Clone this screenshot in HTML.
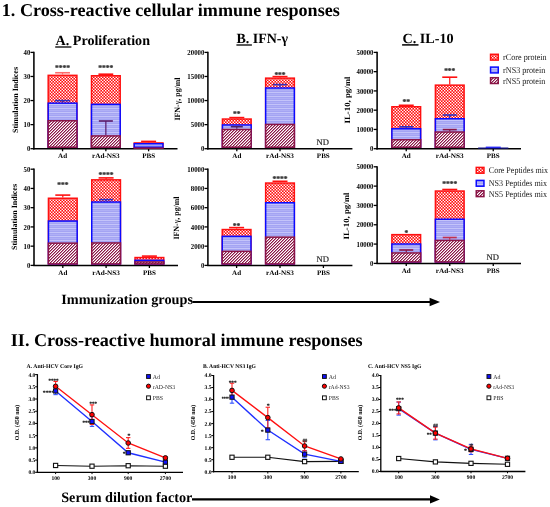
<!DOCTYPE html>
<html><head><meta charset="utf-8"><title>Cross-reactive immune responses</title>
<style>html,body{margin:0;padding:0;background:#fff;width:550px;height:507px;overflow:hidden}svg{display:block}</style>
</head><body>
<svg width="550" height="507" viewBox="0 0 550 507" font-family="'Liberation Serif', 'Times New Roman', serif" text-rendering="geometricPrecision">
<defs>
<pattern id="rp" patternUnits="userSpaceOnUse" width="3" height="3"><rect x="0" y="0" width="1" height="1" fill="#fff4f4"/><rect x="0" y="1" width="1" height="1" fill="#ff6e6e"/><rect x="0" y="2" width="1" height="1" fill="#ff0c0c"/><rect x="1" y="0" width="1" height="1" fill="#ff6e6e"/><rect x="1" y="1" width="1" height="1" fill="#ff6e6e"/><rect x="1" y="2" width="1" height="1" fill="#ff6e6e"/><rect x="2" y="0" width="1" height="1" fill="#ff0c0c"/><rect x="2" y="1" width="1" height="1" fill="#ff6e6e"/><rect x="2" y="2" width="1" height="1" fill="#fff4f4"/></pattern>
<pattern id="bp" patternUnits="userSpaceOnUse" width="4" height="4">
<rect width="4" height="4" fill="#a4a4f3"/><rect y="0" width="4" height="1" fill="#c4c4fa"/><rect y="2" width="4" height="1" fill="#b0b0f6"/>
</pattern>
<pattern id="pp" patternUnits="userSpaceOnUse" width="3" height="3">
<rect width="3" height="3" fill="#fff"/><rect x="0" y="0" width="1" height="1" fill="#8a1446"/><rect x="0" y="1" width="1" height="1" fill="#c48aa2"/><rect x="1" y="0" width="1" height="1" fill="#c48aa2"/><rect x="1" y="2" width="1" height="1" fill="#8a1446"/><rect x="2" y="1" width="1" height="1" fill="#8a1446"/><rect x="2" y="2" width="1" height="1" fill="#c48aa2"/>
</pattern>
</defs>
<text x="1.80" y="15.80" font-size="18" font-weight="bold" fill="#000" textLength="338.00" lengthAdjust="spacingAndGlyphs">1. Cross-reactive cellular immune responses</text>
<text x="10.80" y="345.60" font-size="18" font-weight="bold" fill="#000" textLength="351.80" lengthAdjust="spacingAndGlyphs">II. Cross-reactive humoral immune responses</text>
<text x="61.20" y="304.40" font-size="14.2" font-weight="bold" fill="#000" textLength="131.80" lengthAdjust="spacingAndGlyphs">Immunization groups</text>
<text x="61.20" y="502.00" font-size="14.3" font-weight="bold" fill="#000" textLength="131.20" lengthAdjust="spacingAndGlyphs">Serum dilution factor</text>
<line x1="192.50" y1="301.90" x2="431.00" y2="301.90" stroke="#000" stroke-width="2.0"/>
<polygon points="429.6,297.8 440,302 429.6,306.2" fill="#000"/>
<line x1="192.00" y1="499.40" x2="431.00" y2="499.40" stroke="#000" stroke-width="2.2"/>
<polygon points="430,495.3 439.8,499.4 430,503.6" fill="#000"/>
<text x="55.6" y="44.8" font-size="14.1" font-weight="bold" textLength="94.4" lengthAdjust="spacingAndGlyphs">A. Proliferation</text>
<line x1="55.20" y1="47.00" x2="71.40" y2="47.00" stroke="#000" stroke-width="1.3"/>
<text x="236.4" y="43.3" font-size="14.1" font-weight="bold" textLength="51.6" lengthAdjust="spacingAndGlyphs">B. IFN-&#947;</text>
<line x1="236.40" y1="45.00" x2="251.90" y2="45.00" stroke="#000" stroke-width="1.3"/>
<text x="402.4" y="42.8" font-size="14.1" font-weight="bold" textLength="51.2" lengthAdjust="spacingAndGlyphs">C. IL-10</text>
<line x1="402.10" y1="44.90" x2="418.50" y2="44.90" stroke="#000" stroke-width="1.5"/>
<line x1="30.50" y1="148.70" x2="33.90" y2="148.70" stroke="#000" stroke-width="1.3"/>
<text x="30.30" y="151.30" font-size="7.7" text-anchor="end" font-weight="bold" fill="#000" textLength="3.39" lengthAdjust="spacingAndGlyphs">0</text>
<line x1="30.50" y1="124.62" x2="33.90" y2="124.62" stroke="#000" stroke-width="1.3"/>
<text x="30.30" y="127.22" font-size="7.7" text-anchor="end" font-weight="bold" fill="#000" textLength="6.78" lengthAdjust="spacingAndGlyphs">10</text>
<line x1="30.50" y1="100.55" x2="33.90" y2="100.55" stroke="#000" stroke-width="1.3"/>
<text x="30.30" y="103.15" font-size="7.7" text-anchor="end" font-weight="bold" fill="#000" textLength="6.78" lengthAdjust="spacingAndGlyphs">20</text>
<line x1="30.50" y1="76.47" x2="33.90" y2="76.47" stroke="#000" stroke-width="1.3"/>
<text x="30.30" y="79.07" font-size="7.7" text-anchor="end" font-weight="bold" fill="#000" textLength="6.78" lengthAdjust="spacingAndGlyphs">30</text>
<line x1="30.50" y1="52.40" x2="33.90" y2="52.40" stroke="#000" stroke-width="1.3"/>
<text x="30.30" y="55.00" font-size="7.7" text-anchor="end" font-weight="bold" fill="#000" textLength="6.78" lengthAdjust="spacingAndGlyphs">40</text>
<line x1="33.90" y1="51.75" x2="33.90" y2="149.40" stroke="#000" stroke-width="1.55"/>
<line x1="33.20" y1="148.70" x2="177.50" y2="148.70" stroke="#000" stroke-width="1.55"/>
<text transform="translate(17.50,100.00) rotate(-90)" x="0" y="0" font-size="8" font-weight="bold" text-anchor="middle" textLength="66" lengthAdjust="spacingAndGlyphs">Stimulation Indices</text>
<line x1="62.55" y1="148.70" x2="62.55" y2="151.30" stroke="#000" stroke-width="1.3"/>
<text x="62.55" y="157.80" font-size="6.9" text-anchor="middle" font-weight="bold" fill="#000" textLength="9.00" lengthAdjust="spacingAndGlyphs">Ad</text>
<rect x="48.20" y="75.35" width="28.70" height="71.85" fill="url(#rp)" stroke="#ff1010" stroke-width="1.5"/>
<rect x="48.20" y="103.15" width="28.70" height="44.05" fill="url(#bp)" stroke="#0a0aff" stroke-width="1.5"/>
<rect x="48.20" y="120.75" width="28.70" height="26.45" fill="url(#pp)" stroke="#8a1446" stroke-width="1.5"/>
<line x1="62.55" y1="74.60" x2="62.55" y2="72.75" stroke="#ff6a6a" stroke-width="1.2"/>
<line x1="55.15" y1="72.75" x2="69.95" y2="72.75" stroke="#ff6a6a" stroke-width="1.6"/>
<line x1="62.55" y1="102.40" x2="62.55" y2="100.60" stroke="#3030c0" stroke-width="1.2"/>
<line x1="55.05" y1="100.60" x2="70.05" y2="100.60" stroke="#3030c0" stroke-width="1.6"/>
<text x="62.55" y="70.30" font-size="7.4" text-anchor="middle" font-weight="bold" fill="#3a3a3a" textLength="15.00" lengthAdjust="spacingAndGlyphs" stroke="#3a3a3a" stroke-width="0.3">****</text>
<line x1="105.85" y1="148.70" x2="105.85" y2="151.30" stroke="#000" stroke-width="1.3"/>
<text x="105.85" y="157.80" font-size="6.9" text-anchor="middle" font-weight="bold" fill="#000" textLength="27.80" lengthAdjust="spacingAndGlyphs">rAd-NS3</text>
<rect x="91.50" y="75.75" width="28.70" height="71.45" fill="url(#rp)" stroke="#ff1010" stroke-width="1.5"/>
<rect x="91.50" y="104.35" width="28.70" height="42.85" fill="url(#bp)" stroke="#0a0aff" stroke-width="1.5"/>
<rect x="91.50" y="135.95" width="28.70" height="11.25" fill="url(#pp)" stroke="#8a1446" stroke-width="1.5"/>
<line x1="105.85" y1="135.00" x2="105.85" y2="121.00" stroke="#5a1a6a" stroke-width="1.2"/>
<line x1="98.85" y1="121.00" x2="112.85" y2="121.00" stroke="#5a1a6a" stroke-width="1.6"/>
<line x1="105.85" y1="75.00" x2="105.85" y2="74.20" stroke="#ff1010" stroke-width="1.2"/>
<line x1="98.45" y1="74.20" x2="113.25" y2="74.20" stroke="#ff1010" stroke-width="1.6"/>
<text x="105.85" y="70.30" font-size="7.4" text-anchor="middle" font-weight="bold" fill="#3a3a3a" textLength="15.00" lengthAdjust="spacingAndGlyphs" stroke="#3a3a3a" stroke-width="0.3">****</text>
<line x1="148.60" y1="148.70" x2="148.60" y2="151.30" stroke="#000" stroke-width="1.3"/>
<text x="148.60" y="157.80" font-size="6.9" text-anchor="middle" font-weight="bold" fill="#000" textLength="12.90" lengthAdjust="spacingAndGlyphs">PBS</text>
<rect x="134.25" y="142.95" width="28.70" height="4.25" fill="url(#rp)" stroke="#ff1010" stroke-width="1.5"/>
<rect x="134.25" y="143.75" width="28.70" height="3.45" fill="url(#bp)" stroke="#0a0aff" stroke-width="1.5"/>
<rect x="134.25" y="148.15" width="28.70" height="0.10" fill="url(#pp)" stroke="#8a1446" stroke-width="1.5"/>
<line x1="148.60" y1="142.20" x2="148.60" y2="141.40" stroke="#ff1010" stroke-width="1.2"/>
<line x1="141.10" y1="141.40" x2="156.10" y2="141.40" stroke="#ff1010" stroke-width="1.6"/>
<line x1="204.50" y1="148.70" x2="207.90" y2="148.70" stroke="#000" stroke-width="1.3"/>
<text x="204.30" y="151.30" font-size="7.7" text-anchor="end" font-weight="bold" fill="#000" textLength="3.39" lengthAdjust="spacingAndGlyphs">0</text>
<line x1="204.50" y1="124.62" x2="207.90" y2="124.62" stroke="#000" stroke-width="1.3"/>
<text x="204.30" y="127.22" font-size="7.7" text-anchor="end" font-weight="bold" fill="#000" textLength="13.55" lengthAdjust="spacingAndGlyphs">5000</text>
<line x1="204.50" y1="100.55" x2="207.90" y2="100.55" stroke="#000" stroke-width="1.3"/>
<text x="204.30" y="103.15" font-size="7.7" text-anchor="end" font-weight="bold" fill="#000" textLength="16.94" lengthAdjust="spacingAndGlyphs">10000</text>
<line x1="204.50" y1="76.47" x2="207.90" y2="76.47" stroke="#000" stroke-width="1.3"/>
<text x="204.30" y="79.07" font-size="7.7" text-anchor="end" font-weight="bold" fill="#000" textLength="16.94" lengthAdjust="spacingAndGlyphs">15000</text>
<line x1="204.50" y1="52.40" x2="207.90" y2="52.40" stroke="#000" stroke-width="1.3"/>
<text x="204.30" y="55.00" font-size="7.7" text-anchor="end" font-weight="bold" fill="#000" textLength="16.94" lengthAdjust="spacingAndGlyphs">20000</text>
<line x1="207.90" y1="51.75" x2="207.90" y2="149.40" stroke="#000" stroke-width="1.55"/>
<line x1="207.20" y1="148.70" x2="352.40" y2="148.70" stroke="#000" stroke-width="1.55"/>
<text transform="translate(179.60,99.00) rotate(-90)" x="0" y="0" font-size="8" font-weight="bold" text-anchor="middle" textLength="43" lengthAdjust="spacingAndGlyphs">IFN-&#947;, pg/ml</text>
<line x1="236.80" y1="148.70" x2="236.80" y2="151.30" stroke="#000" stroke-width="1.3"/>
<text x="236.80" y="157.80" font-size="6.9" text-anchor="middle" font-weight="bold" fill="#000" textLength="9.00" lengthAdjust="spacingAndGlyphs">Ad</text>
<rect x="222.45" y="119.05" width="28.70" height="28.15" fill="url(#rp)" stroke="#ff1010" stroke-width="1.5"/>
<rect x="222.45" y="124.95" width="28.70" height="22.25" fill="url(#bp)" stroke="#0a0aff" stroke-width="1.5"/>
<rect x="222.45" y="129.45" width="28.70" height="17.75" fill="url(#pp)" stroke="#8a1446" stroke-width="1.5"/>
<line x1="236.80" y1="128.70" x2="236.80" y2="126.70" stroke="#502060" stroke-width="1.2"/>
<line x1="230.80" y1="126.70" x2="242.80" y2="126.70" stroke="#502060" stroke-width="1.6"/>
<line x1="236.80" y1="118.30" x2="236.80" y2="117.60" stroke="#ff1010" stroke-width="1.2"/>
<line x1="229.30" y1="117.60" x2="244.30" y2="117.60" stroke="#ff1010" stroke-width="1.6"/>
<text x="236.80" y="116.40" font-size="7.4" text-anchor="middle" font-weight="bold" fill="#3a3a3a" textLength="7.50" lengthAdjust="spacingAndGlyphs" stroke="#3a3a3a" stroke-width="0.3">**</text>
<line x1="280.00" y1="148.70" x2="280.00" y2="151.30" stroke="#000" stroke-width="1.3"/>
<text x="280.00" y="157.80" font-size="6.9" text-anchor="middle" font-weight="bold" fill="#000" textLength="27.80" lengthAdjust="spacingAndGlyphs">rAd-NS3</text>
<rect x="265.65" y="78.15" width="28.70" height="69.05" fill="url(#rp)" stroke="#ff1010" stroke-width="1.5"/>
<rect x="265.65" y="88.05" width="28.70" height="59.15" fill="url(#bp)" stroke="#0a0aff" stroke-width="1.5"/>
<rect x="265.65" y="124.45" width="28.70" height="22.75" fill="url(#pp)" stroke="#8a1446" stroke-width="1.5"/>
<line x1="280.00" y1="87.30" x2="280.00" y2="84.60" stroke="#3030c0" stroke-width="1.2"/>
<line x1="273.00" y1="84.60" x2="287.00" y2="84.60" stroke="#3030c0" stroke-width="1.6"/>
<line x1="280.00" y1="77.40" x2="280.00" y2="76.60" stroke="#ff1010" stroke-width="1.2"/>
<line x1="272.50" y1="76.60" x2="287.50" y2="76.60" stroke="#ff1010" stroke-width="1.6"/>
<text x="280.00" y="76.60" font-size="7.4" text-anchor="middle" font-weight="bold" fill="#3a3a3a" textLength="11.25" lengthAdjust="spacingAndGlyphs" stroke="#3a3a3a" stroke-width="0.3">***</text>
<line x1="323.30" y1="148.70" x2="323.30" y2="151.30" stroke="#000" stroke-width="1.3"/>
<text x="323.30" y="157.80" font-size="6.9" text-anchor="middle" font-weight="bold" fill="#000" textLength="12.90" lengthAdjust="spacingAndGlyphs">PBS</text>
<text x="322.70" y="145.00" font-size="8.6" text-anchor="middle" fill="#1a1a1a" textLength="12.40" lengthAdjust="spacingAndGlyphs" stroke="#1a1a1a" stroke-width="0.15">ND</text>
<line x1="373.70" y1="148.70" x2="377.10" y2="148.70" stroke="#000" stroke-width="1.3"/>
<text x="373.50" y="151.30" font-size="7.7" text-anchor="end" font-weight="bold" fill="#000" textLength="3.39" lengthAdjust="spacingAndGlyphs">0</text>
<line x1="373.70" y1="129.44" x2="377.10" y2="129.44" stroke="#000" stroke-width="1.3"/>
<text x="373.50" y="132.04" font-size="7.7" text-anchor="end" font-weight="bold" fill="#000" textLength="16.94" lengthAdjust="spacingAndGlyphs">10000</text>
<line x1="373.70" y1="110.18" x2="377.10" y2="110.18" stroke="#000" stroke-width="1.3"/>
<text x="373.50" y="112.78" font-size="7.7" text-anchor="end" font-weight="bold" fill="#000" textLength="16.94" lengthAdjust="spacingAndGlyphs">20000</text>
<line x1="373.70" y1="90.92" x2="377.10" y2="90.92" stroke="#000" stroke-width="1.3"/>
<text x="373.50" y="93.52" font-size="7.7" text-anchor="end" font-weight="bold" fill="#000" textLength="16.94" lengthAdjust="spacingAndGlyphs">30000</text>
<line x1="373.70" y1="71.66" x2="377.10" y2="71.66" stroke="#000" stroke-width="1.3"/>
<text x="373.50" y="74.26" font-size="7.7" text-anchor="end" font-weight="bold" fill="#000" textLength="16.94" lengthAdjust="spacingAndGlyphs">40000</text>
<line x1="373.70" y1="52.40" x2="377.10" y2="52.40" stroke="#000" stroke-width="1.3"/>
<text x="373.50" y="55.00" font-size="7.7" text-anchor="end" font-weight="bold" fill="#000" textLength="16.94" lengthAdjust="spacingAndGlyphs">50000</text>
<line x1="377.10" y1="51.75" x2="377.10" y2="149.40" stroke="#000" stroke-width="1.55"/>
<line x1="376.40" y1="148.70" x2="521.00" y2="148.70" stroke="#000" stroke-width="1.55"/>
<text transform="translate(349.50,100.00) rotate(-90)" x="0" y="0" font-size="8" font-weight="bold" text-anchor="middle" textLength="47" lengthAdjust="spacingAndGlyphs">IL-10, pg/ml</text>
<line x1="406.25" y1="148.70" x2="406.25" y2="151.30" stroke="#000" stroke-width="1.3"/>
<text x="406.25" y="157.80" font-size="6.9" text-anchor="middle" font-weight="bold" fill="#000" textLength="9.00" lengthAdjust="spacingAndGlyphs">Ad</text>
<rect x="391.90" y="106.75" width="28.70" height="40.45" fill="url(#rp)" stroke="#ff1010" stroke-width="1.5"/>
<rect x="391.90" y="128.75" width="28.70" height="18.45" fill="url(#bp)" stroke="#0a0aff" stroke-width="1.5"/>
<rect x="391.90" y="139.75" width="28.70" height="7.45" fill="url(#pp)" stroke="#8a1446" stroke-width="1.5"/>
<line x1="406.25" y1="106.00" x2="406.25" y2="105.30" stroke="#ff1010" stroke-width="1.2"/>
<line x1="398.75" y1="105.30" x2="413.75" y2="105.30" stroke="#ff1010" stroke-width="1.6"/>
<line x1="406.25" y1="128.00" x2="406.25" y2="126.80" stroke="#3030c0" stroke-width="1.2"/>
<line x1="399.25" y1="126.80" x2="413.25" y2="126.80" stroke="#3030c0" stroke-width="1.6"/>
<text x="406.25" y="103.70" font-size="7.4" text-anchor="middle" font-weight="bold" fill="#3a3a3a" textLength="7.50" lengthAdjust="spacingAndGlyphs" stroke="#3a3a3a" stroke-width="0.3">**</text>
<line x1="449.75" y1="148.70" x2="449.75" y2="151.30" stroke="#000" stroke-width="1.3"/>
<text x="449.75" y="157.80" font-size="6.9" text-anchor="middle" font-weight="bold" fill="#000" textLength="27.80" lengthAdjust="spacingAndGlyphs">rAd-NS3</text>
<rect x="435.40" y="85.15" width="28.70" height="62.05" fill="url(#rp)" stroke="#ff1010" stroke-width="1.5"/>
<rect x="435.40" y="118.75" width="28.70" height="28.45" fill="url(#bp)" stroke="#0a0aff" stroke-width="1.5"/>
<rect x="435.40" y="132.05" width="28.70" height="15.15" fill="url(#pp)" stroke="#8a1446" stroke-width="1.5"/>
<line x1="449.75" y1="84.40" x2="449.75" y2="77.20" stroke="#ff1010" stroke-width="1.2"/>
<line x1="442.25" y1="77.20" x2="457.25" y2="77.20" stroke="#ff1010" stroke-width="1.6"/>
<line x1="449.75" y1="118.00" x2="449.75" y2="115.00" stroke="#3030c0" stroke-width="1.2"/>
<line x1="442.75" y1="115.00" x2="456.75" y2="115.00" stroke="#3030c0" stroke-width="1.6"/>
<line x1="449.75" y1="131.30" x2="449.75" y2="129.60" stroke="#8a1446" stroke-width="1.2"/>
<line x1="442.75" y1="129.60" x2="456.75" y2="129.60" stroke="#8a1446" stroke-width="1.6"/>
<text x="449.75" y="72.90" font-size="7.4" text-anchor="middle" font-weight="bold" fill="#3a3a3a" textLength="11.25" lengthAdjust="spacingAndGlyphs" stroke="#3a3a3a" stroke-width="0.3">***</text>
<line x1="493.25" y1="148.70" x2="493.25" y2="151.30" stroke="#000" stroke-width="1.3"/>
<text x="493.25" y="157.80" font-size="6.9" text-anchor="middle" font-weight="bold" fill="#000" textLength="12.90" lengthAdjust="spacingAndGlyphs">PBS</text>
<line x1="478.15" y1="148.10" x2="508.35" y2="148.10" stroke="#10108a" stroke-width="1.2"/>
<line x1="485.75" y1="147.20" x2="500.75" y2="147.20" stroke="#0a0aff" stroke-width="1.1"/>
<line x1="30.60" y1="265.40" x2="34.00" y2="265.40" stroke="#000" stroke-width="1.3"/>
<text x="30.40" y="268.00" font-size="7.7" text-anchor="end" font-weight="bold" fill="#000" textLength="3.39" lengthAdjust="spacingAndGlyphs">0</text>
<line x1="30.60" y1="246.16" x2="34.00" y2="246.16" stroke="#000" stroke-width="1.3"/>
<text x="30.40" y="248.76" font-size="7.7" text-anchor="end" font-weight="bold" fill="#000" textLength="6.78" lengthAdjust="spacingAndGlyphs">10</text>
<line x1="30.60" y1="226.92" x2="34.00" y2="226.92" stroke="#000" stroke-width="1.3"/>
<text x="30.40" y="229.52" font-size="7.7" text-anchor="end" font-weight="bold" fill="#000" textLength="6.78" lengthAdjust="spacingAndGlyphs">20</text>
<line x1="30.60" y1="207.68" x2="34.00" y2="207.68" stroke="#000" stroke-width="1.3"/>
<text x="30.40" y="210.28" font-size="7.7" text-anchor="end" font-weight="bold" fill="#000" textLength="6.78" lengthAdjust="spacingAndGlyphs">30</text>
<line x1="30.60" y1="188.44" x2="34.00" y2="188.44" stroke="#000" stroke-width="1.3"/>
<text x="30.40" y="191.04" font-size="7.7" text-anchor="end" font-weight="bold" fill="#000" textLength="6.78" lengthAdjust="spacingAndGlyphs">40</text>
<line x1="30.60" y1="169.20" x2="34.00" y2="169.20" stroke="#000" stroke-width="1.3"/>
<text x="30.40" y="171.80" font-size="7.7" text-anchor="end" font-weight="bold" fill="#000" textLength="6.78" lengthAdjust="spacingAndGlyphs">50</text>
<line x1="34.00" y1="168.55" x2="34.00" y2="266.10" stroke="#000" stroke-width="1.55"/>
<line x1="33.30" y1="265.40" x2="178.00" y2="265.40" stroke="#000" stroke-width="1.55"/>
<text transform="translate(16.90,217.00) rotate(-90)" x="0" y="0" font-size="8" font-weight="bold" text-anchor="middle" textLength="66" lengthAdjust="spacingAndGlyphs">Stimulation Indices</text>
<line x1="62.80" y1="265.40" x2="62.80" y2="268.00" stroke="#000" stroke-width="1.3"/>
<text x="62.80" y="274.50" font-size="6.9" text-anchor="middle" font-weight="bold" fill="#000" textLength="9.00" lengthAdjust="spacingAndGlyphs">Ad</text>
<rect x="48.45" y="198.25" width="28.70" height="65.65" fill="url(#rp)" stroke="#ff1010" stroke-width="1.5"/>
<rect x="48.45" y="221.05" width="28.70" height="42.85" fill="url(#bp)" stroke="#0a0aff" stroke-width="1.5"/>
<rect x="48.45" y="243.15" width="28.70" height="20.75" fill="url(#pp)" stroke="#8a1446" stroke-width="1.5"/>
<line x1="62.80" y1="197.50" x2="62.80" y2="195.10" stroke="#ff1010" stroke-width="1.2"/>
<line x1="55.30" y1="195.10" x2="70.30" y2="195.10" stroke="#ff1010" stroke-width="1.6"/>
<text x="62.80" y="186.60" font-size="7.4" text-anchor="middle" font-weight="bold" fill="#3a3a3a" textLength="11.25" lengthAdjust="spacingAndGlyphs" stroke="#3a3a3a" stroke-width="0.3">***</text>
<line x1="106.10" y1="265.40" x2="106.10" y2="268.00" stroke="#000" stroke-width="1.3"/>
<text x="106.10" y="274.50" font-size="6.9" text-anchor="middle" font-weight="bold" fill="#000" textLength="27.80" lengthAdjust="spacingAndGlyphs">rAd-NS3</text>
<rect x="91.75" y="179.85" width="28.70" height="84.05" fill="url(#rp)" stroke="#ff1010" stroke-width="1.5"/>
<rect x="91.75" y="202.05" width="28.70" height="61.85" fill="url(#bp)" stroke="#0a0aff" stroke-width="1.5"/>
<rect x="91.75" y="242.95" width="28.70" height="20.95" fill="url(#pp)" stroke="#8a1446" stroke-width="1.5"/>
<line x1="106.10" y1="201.30" x2="106.10" y2="199.60" stroke="#3030c0" stroke-width="1.2"/>
<line x1="99.10" y1="199.60" x2="113.10" y2="199.60" stroke="#3030c0" stroke-width="1.6"/>
<line x1="106.10" y1="179.10" x2="106.10" y2="177.90" stroke="#ff1010" stroke-width="1.2"/>
<line x1="98.60" y1="177.90" x2="113.60" y2="177.90" stroke="#ff1010" stroke-width="1.6"/>
<text x="106.10" y="176.60" font-size="7.4" text-anchor="middle" font-weight="bold" fill="#3a3a3a" textLength="15.00" lengthAdjust="spacingAndGlyphs" stroke="#3a3a3a" stroke-width="0.3">****</text>
<line x1="149.40" y1="265.40" x2="149.40" y2="268.00" stroke="#000" stroke-width="1.3"/>
<text x="149.40" y="274.50" font-size="6.9" text-anchor="middle" font-weight="bold" fill="#000" textLength="12.90" lengthAdjust="spacingAndGlyphs">PBS</text>
<rect x="135.05" y="257.55" width="28.70" height="6.35" fill="url(#rp)" stroke="#ff1010" stroke-width="1.5"/>
<rect x="135.05" y="260.35" width="28.70" height="3.55" fill="url(#bp)" stroke="#0a0aff" stroke-width="1.5"/>
<rect x="135.05" y="261.95" width="28.70" height="1.95" fill="url(#pp)" stroke="#8a1446" stroke-width="1.5"/>
<line x1="149.40" y1="256.80" x2="149.40" y2="256.10" stroke="#ff1010" stroke-width="1.2"/>
<line x1="141.90" y1="256.10" x2="156.90" y2="256.10" stroke="#ff1010" stroke-width="1.6"/>
<line x1="204.50" y1="265.40" x2="207.90" y2="265.40" stroke="#000" stroke-width="1.3"/>
<text x="204.30" y="268.00" font-size="7.7" text-anchor="end" font-weight="bold" fill="#000" textLength="3.39" lengthAdjust="spacingAndGlyphs">0</text>
<line x1="204.50" y1="246.16" x2="207.90" y2="246.16" stroke="#000" stroke-width="1.3"/>
<text x="204.30" y="248.76" font-size="7.7" text-anchor="end" font-weight="bold" fill="#000" textLength="13.55" lengthAdjust="spacingAndGlyphs">2000</text>
<line x1="204.50" y1="226.92" x2="207.90" y2="226.92" stroke="#000" stroke-width="1.3"/>
<text x="204.30" y="229.52" font-size="7.7" text-anchor="end" font-weight="bold" fill="#000" textLength="13.55" lengthAdjust="spacingAndGlyphs">4000</text>
<line x1="204.50" y1="207.68" x2="207.90" y2="207.68" stroke="#000" stroke-width="1.3"/>
<text x="204.30" y="210.28" font-size="7.7" text-anchor="end" font-weight="bold" fill="#000" textLength="13.55" lengthAdjust="spacingAndGlyphs">6000</text>
<line x1="204.50" y1="188.44" x2="207.90" y2="188.44" stroke="#000" stroke-width="1.3"/>
<text x="204.30" y="191.04" font-size="7.7" text-anchor="end" font-weight="bold" fill="#000" textLength="13.55" lengthAdjust="spacingAndGlyphs">8000</text>
<line x1="204.50" y1="169.20" x2="207.90" y2="169.20" stroke="#000" stroke-width="1.3"/>
<text x="204.30" y="171.80" font-size="7.7" text-anchor="end" font-weight="bold" fill="#000" textLength="16.94" lengthAdjust="spacingAndGlyphs">10000</text>
<line x1="207.90" y1="168.55" x2="207.90" y2="266.10" stroke="#000" stroke-width="1.55"/>
<line x1="207.20" y1="265.40" x2="352.40" y2="265.40" stroke="#000" stroke-width="1.55"/>
<text transform="translate(179.40,218.00) rotate(-90)" x="0" y="0" font-size="8" font-weight="bold" text-anchor="middle" textLength="43" lengthAdjust="spacingAndGlyphs">IFN-&#947;, pg/ml</text>
<line x1="236.60" y1="265.40" x2="236.60" y2="268.00" stroke="#000" stroke-width="1.3"/>
<text x="236.60" y="274.50" font-size="6.9" text-anchor="middle" font-weight="bold" fill="#000" textLength="9.00" lengthAdjust="spacingAndGlyphs">Ad</text>
<rect x="222.25" y="229.55" width="28.70" height="34.35" fill="url(#rp)" stroke="#ff1010" stroke-width="1.5"/>
<rect x="222.25" y="236.35" width="28.70" height="27.55" fill="url(#bp)" stroke="#0a0aff" stroke-width="1.5"/>
<rect x="222.25" y="251.35" width="28.70" height="12.55" fill="url(#pp)" stroke="#8a1446" stroke-width="1.5"/>
<line x1="236.60" y1="228.50" x2="236.60" y2="227.60" stroke="#ff1010" stroke-width="1.2"/>
<line x1="229.10" y1="227.60" x2="244.10" y2="227.60" stroke="#ff1010" stroke-width="1.6"/>
<text x="236.60" y="228.20" font-size="7.4" text-anchor="middle" font-weight="bold" fill="#3a3a3a" textLength="7.50" lengthAdjust="spacingAndGlyphs" stroke="#3a3a3a" stroke-width="0.3">**</text>
<line x1="280.00" y1="265.40" x2="280.00" y2="268.00" stroke="#000" stroke-width="1.3"/>
<text x="280.00" y="274.50" font-size="6.9" text-anchor="middle" font-weight="bold" fill="#000" textLength="27.80" lengthAdjust="spacingAndGlyphs">rAd-NS3</text>
<rect x="265.65" y="183.05" width="28.70" height="80.85" fill="url(#rp)" stroke="#ff1010" stroke-width="1.5"/>
<rect x="265.65" y="202.75" width="28.70" height="61.15" fill="url(#bp)" stroke="#0a0aff" stroke-width="1.5"/>
<rect x="265.65" y="237.15" width="28.70" height="26.75" fill="url(#pp)" stroke="#8a1446" stroke-width="1.5"/>
<line x1="280.00" y1="182.30" x2="280.00" y2="181.30" stroke="#ff1010" stroke-width="1.2"/>
<line x1="272.50" y1="181.30" x2="287.50" y2="181.30" stroke="#ff1010" stroke-width="1.6"/>
<text x="280.00" y="180.60" font-size="7.4" text-anchor="middle" font-weight="bold" fill="#3a3a3a" textLength="15.00" lengthAdjust="spacingAndGlyphs" stroke="#3a3a3a" stroke-width="0.3">****</text>
<line x1="323.40" y1="265.40" x2="323.40" y2="268.00" stroke="#000" stroke-width="1.3"/>
<text x="323.40" y="274.50" font-size="6.9" text-anchor="middle" font-weight="bold" fill="#000" textLength="12.90" lengthAdjust="spacingAndGlyphs">PBS</text>
<text x="322.80" y="262.00" font-size="8.6" text-anchor="middle" fill="#1a1a1a" textLength="12.40" lengthAdjust="spacingAndGlyphs" stroke="#1a1a1a" stroke-width="0.15">ND</text>
<line x1="373.70" y1="263.40" x2="377.10" y2="263.40" stroke="#000" stroke-width="1.3"/>
<text x="373.50" y="266.00" font-size="7.7" text-anchor="end" font-weight="bold" fill="#000" textLength="3.39" lengthAdjust="spacingAndGlyphs">0</text>
<line x1="373.70" y1="244.08" x2="377.10" y2="244.08" stroke="#000" stroke-width="1.3"/>
<text x="373.50" y="246.68" font-size="7.7" text-anchor="end" font-weight="bold" fill="#000" textLength="16.94" lengthAdjust="spacingAndGlyphs">10000</text>
<line x1="373.70" y1="224.76" x2="377.10" y2="224.76" stroke="#000" stroke-width="1.3"/>
<text x="373.50" y="227.36" font-size="7.7" text-anchor="end" font-weight="bold" fill="#000" textLength="16.94" lengthAdjust="spacingAndGlyphs">20000</text>
<line x1="373.70" y1="205.44" x2="377.10" y2="205.44" stroke="#000" stroke-width="1.3"/>
<text x="373.50" y="208.04" font-size="7.7" text-anchor="end" font-weight="bold" fill="#000" textLength="16.94" lengthAdjust="spacingAndGlyphs">30000</text>
<line x1="373.70" y1="186.12" x2="377.10" y2="186.12" stroke="#000" stroke-width="1.3"/>
<text x="373.50" y="188.72" font-size="7.7" text-anchor="end" font-weight="bold" fill="#000" textLength="16.94" lengthAdjust="spacingAndGlyphs">40000</text>
<line x1="373.70" y1="166.80" x2="377.10" y2="166.80" stroke="#000" stroke-width="1.3"/>
<text x="373.50" y="169.40" font-size="7.7" text-anchor="end" font-weight="bold" fill="#000" textLength="16.94" lengthAdjust="spacingAndGlyphs">50000</text>
<line x1="377.10" y1="166.15" x2="377.10" y2="264.10" stroke="#000" stroke-width="1.55"/>
<line x1="376.40" y1="263.40" x2="521.00" y2="263.40" stroke="#000" stroke-width="1.55"/>
<text transform="translate(349.00,216.00) rotate(-90)" x="0" y="0" font-size="8" font-weight="bold" text-anchor="middle" textLength="47" lengthAdjust="spacingAndGlyphs">IL-10, pg/ml</text>
<line x1="406.25" y1="263.40" x2="406.25" y2="266.00" stroke="#000" stroke-width="1.3"/>
<text x="406.25" y="272.50" font-size="6.9" text-anchor="middle" font-weight="bold" fill="#000" textLength="9.00" lengthAdjust="spacingAndGlyphs">Ad</text>
<rect x="391.90" y="234.65" width="28.70" height="27.25" fill="url(#rp)" stroke="#ff1010" stroke-width="1.5"/>
<rect x="391.90" y="244.05" width="28.70" height="17.85" fill="url(#bp)" stroke="#0a0aff" stroke-width="1.5"/>
<rect x="391.90" y="252.95" width="28.70" height="8.95" fill="url(#pp)" stroke="#8a1446" stroke-width="1.5"/>
<line x1="406.25" y1="252.40" x2="406.25" y2="250.00" stroke="#8a1446" stroke-width="1.2"/>
<line x1="399.25" y1="250.00" x2="413.25" y2="250.00" stroke="#8a1446" stroke-width="1.6"/>
<text x="406.25" y="234.60" font-size="7.4" text-anchor="middle" font-weight="bold" fill="#3a3a3a" textLength="3.75" lengthAdjust="spacingAndGlyphs" stroke="#3a3a3a" stroke-width="0.3">*</text>
<line x1="449.75" y1="263.40" x2="449.75" y2="266.00" stroke="#000" stroke-width="1.3"/>
<text x="449.75" y="272.50" font-size="6.9" text-anchor="middle" font-weight="bold" fill="#000" textLength="27.80" lengthAdjust="spacingAndGlyphs">rAd-NS3</text>
<rect x="435.40" y="191.05" width="28.70" height="70.85" fill="url(#rp)" stroke="#ff1010" stroke-width="1.5"/>
<rect x="435.40" y="219.25" width="28.70" height="42.65" fill="url(#bp)" stroke="#0a0aff" stroke-width="1.5"/>
<rect x="435.40" y="240.45" width="28.70" height="21.45" fill="url(#pp)" stroke="#8a1446" stroke-width="1.5"/>
<line x1="449.75" y1="239.70" x2="449.75" y2="237.50" stroke="#c03050" stroke-width="1.2"/>
<line x1="442.75" y1="237.50" x2="456.75" y2="237.50" stroke="#c03050" stroke-width="1.6"/>
<line x1="449.75" y1="190.30" x2="449.75" y2="189.50" stroke="#ff1010" stroke-width="1.2"/>
<line x1="442.25" y1="189.50" x2="457.25" y2="189.50" stroke="#ff1010" stroke-width="1.6"/>
<text x="449.75" y="186.10" font-size="7.4" text-anchor="middle" font-weight="bold" fill="#3a3a3a" textLength="15.00" lengthAdjust="spacingAndGlyphs" stroke="#3a3a3a" stroke-width="0.3">****</text>
<line x1="493.25" y1="263.40" x2="493.25" y2="266.00" stroke="#000" stroke-width="1.3"/>
<text x="493.25" y="272.50" font-size="6.9" text-anchor="middle" font-weight="bold" fill="#000" textLength="12.90" lengthAdjust="spacingAndGlyphs">PBS</text>
<text x="492.65" y="260.00" font-size="8.6" text-anchor="middle" fill="#1a1a1a" textLength="12.40" lengthAdjust="spacingAndGlyphs" stroke="#1a1a1a" stroke-width="0.15">ND</text>
<rect x="490.55" y="54.30" width="7.7" height="5.8" fill="url(#rp)" stroke="#ff1010" stroke-width="1.5"/>
<text x="503.10" y="60.10" font-size="8.9" fill="#1a1a1a" textLength="43.60" lengthAdjust="spacingAndGlyphs">rCore protein</text>
<rect x="490.55" y="67.10" width="7.7" height="5.8" fill="url(#bp)" stroke="#0a0aff" stroke-width="1.5"/>
<text x="503.10" y="72.90" font-size="8.9" fill="#1a1a1a" textLength="42.20" lengthAdjust="spacingAndGlyphs">rNS3 protein</text>
<rect x="490.55" y="77.70" width="7.7" height="5.8" fill="url(#pp)" stroke="#8a1446" stroke-width="1.5"/>
<text x="503.10" y="83.50" font-size="8.9" fill="#1a1a1a" textLength="42.20" lengthAdjust="spacingAndGlyphs">rNS5 protein</text>
<rect x="476.25" y="167.40" width="7.7" height="5.8" fill="url(#rp)" stroke="#ff1010" stroke-width="1.5"/>
<text x="488.80" y="173.20" font-size="8.9" fill="#1a1a1a" textLength="59.20" lengthAdjust="spacingAndGlyphs">Core Peptides mix</text>
<rect x="476.25" y="180.40" width="7.7" height="5.8" fill="url(#bp)" stroke="#0a0aff" stroke-width="1.5"/>
<text x="488.80" y="186.20" font-size="8.9" fill="#1a1a1a" textLength="58.20" lengthAdjust="spacingAndGlyphs">NS3 Peptides mix</text>
<rect x="476.25" y="190.80" width="7.7" height="5.8" fill="url(#pp)" stroke="#8a1446" stroke-width="1.5"/>
<text x="488.80" y="196.60" font-size="8.9" fill="#1a1a1a" textLength="58.20" lengthAdjust="spacingAndGlyphs">NS5 Peptides mix</text>
<line x1="35.10" y1="472.30" x2="37.40" y2="472.30" stroke="#000" stroke-width="1"/>
<text x="35.40" y="474.20" font-size="5.6" text-anchor="end" font-weight="bold" fill="#000">0.0</text>
<line x1="35.10" y1="460.09" x2="37.40" y2="460.09" stroke="#000" stroke-width="1"/>
<text x="35.40" y="461.99" font-size="5.6" text-anchor="end" font-weight="bold" fill="#000">0.5</text>
<line x1="35.10" y1="447.88" x2="37.40" y2="447.88" stroke="#000" stroke-width="1"/>
<text x="35.40" y="449.77" font-size="5.6" text-anchor="end" font-weight="bold" fill="#000">1.0</text>
<line x1="35.10" y1="435.66" x2="37.40" y2="435.66" stroke="#000" stroke-width="1"/>
<text x="35.40" y="437.56" font-size="5.6" text-anchor="end" font-weight="bold" fill="#000">1.5</text>
<line x1="35.10" y1="423.45" x2="37.40" y2="423.45" stroke="#000" stroke-width="1"/>
<text x="35.40" y="425.35" font-size="5.6" text-anchor="end" font-weight="bold" fill="#000">2.0</text>
<line x1="35.10" y1="411.24" x2="37.40" y2="411.24" stroke="#000" stroke-width="1"/>
<text x="35.40" y="413.14" font-size="5.6" text-anchor="end" font-weight="bold" fill="#000">2.5</text>
<line x1="35.10" y1="399.03" x2="37.40" y2="399.03" stroke="#000" stroke-width="1"/>
<text x="35.40" y="400.93" font-size="5.6" text-anchor="end" font-weight="bold" fill="#000">3.0</text>
<line x1="35.10" y1="386.81" x2="37.40" y2="386.81" stroke="#000" stroke-width="1"/>
<text x="35.40" y="388.71" font-size="5.6" text-anchor="end" font-weight="bold" fill="#000">3.5</text>
<line x1="35.10" y1="374.60" x2="37.40" y2="374.60" stroke="#000" stroke-width="1"/>
<text x="35.40" y="376.50" font-size="5.6" text-anchor="end" font-weight="bold" fill="#000">4.0</text>
<line x1="37.40" y1="374.10" x2="37.40" y2="472.90" stroke="#000" stroke-width="1.3"/>
<line x1="36.80" y1="472.30" x2="183.00" y2="472.30" stroke="#000" stroke-width="1.3"/>
<line x1="55.60" y1="472.30" x2="55.60" y2="474.10" stroke="#000" stroke-width="1"/>
<text x="55.60" y="479.50" font-size="5.6" text-anchor="middle" font-weight="bold" fill="#000">100</text>
<line x1="92.00" y1="472.30" x2="92.00" y2="474.10" stroke="#000" stroke-width="1"/>
<text x="92.00" y="479.50" font-size="5.6" text-anchor="middle" font-weight="bold" fill="#000">300</text>
<line x1="128.20" y1="472.30" x2="128.20" y2="474.10" stroke="#000" stroke-width="1"/>
<text x="128.20" y="479.50" font-size="5.6" text-anchor="middle" font-weight="bold" fill="#000">900</text>
<line x1="165.40" y1="472.30" x2="165.40" y2="474.10" stroke="#000" stroke-width="1"/>
<text x="165.40" y="479.50" font-size="5.6" text-anchor="middle" font-weight="bold" fill="#000">2700</text>
<text x="26.60" y="367.50" font-size="5.8" font-weight="bold" fill="#000" textLength="56.40" lengthAdjust="spacingAndGlyphs">A. Anti-HCV Core IgG</text>
<text transform="translate(19.00,422.5) rotate(-90)" x="0" y="0" font-size="6.2" font-weight="bold" text-anchor="middle" textLength="35.5" lengthAdjust="spacingAndGlyphs">O.D. (450 nm)</text>
<line x1="55.60" y1="394.63" x2="55.60" y2="387.30" stroke="#3050ff" stroke-width="1.1"/>
<line x1="53.40" y1="394.63" x2="57.80" y2="394.63" stroke="#3050ff" stroke-width="1.1"/>
<line x1="53.40" y1="387.30" x2="57.80" y2="387.30" stroke="#3050ff" stroke-width="1.1"/>
<line x1="92.00" y1="426.38" x2="92.00" y2="416.61" stroke="#3050ff" stroke-width="1.1"/>
<line x1="89.80" y1="426.38" x2="94.20" y2="426.38" stroke="#3050ff" stroke-width="1.1"/>
<line x1="89.80" y1="416.61" x2="94.20" y2="416.61" stroke="#3050ff" stroke-width="1.1"/>
<line x1="128.20" y1="453.98" x2="128.20" y2="451.54" stroke="#3050ff" stroke-width="1.1"/>
<line x1="126.00" y1="453.98" x2="130.40" y2="453.98" stroke="#3050ff" stroke-width="1.1"/>
<line x1="126.00" y1="451.54" x2="130.40" y2="451.54" stroke="#3050ff" stroke-width="1.1"/>
<line x1="55.60" y1="391.21" x2="55.60" y2="381.44" stroke="#ff2020" stroke-width="1.1"/>
<line x1="53.40" y1="391.21" x2="57.80" y2="391.21" stroke="#ff2020" stroke-width="1.1"/>
<line x1="53.40" y1="381.44" x2="57.80" y2="381.44" stroke="#ff2020" stroke-width="1.1"/>
<line x1="92.00" y1="424.43" x2="92.00" y2="404.89" stroke="#ff2020" stroke-width="1.1"/>
<line x1="89.80" y1="424.43" x2="94.20" y2="424.43" stroke="#ff2020" stroke-width="1.1"/>
<line x1="89.80" y1="404.89" x2="94.20" y2="404.89" stroke="#ff2020" stroke-width="1.1"/>
<line x1="128.20" y1="448.36" x2="128.20" y2="437.62" stroke="#ff2020" stroke-width="1.1"/>
<line x1="126.00" y1="448.36" x2="130.40" y2="448.36" stroke="#ff2020" stroke-width="1.1"/>
<line x1="126.00" y1="437.62" x2="130.40" y2="437.62" stroke="#ff2020" stroke-width="1.1"/>
<line x1="165.40" y1="459.11" x2="165.40" y2="456.67" stroke="#ff2020" stroke-width="1.1"/>
<line x1="163.20" y1="459.11" x2="167.60" y2="459.11" stroke="#ff2020" stroke-width="1.1"/>
<line x1="163.20" y1="456.67" x2="167.60" y2="456.67" stroke="#ff2020" stroke-width="1.1"/>
<polyline points="55.60,465.46 92.00,466.19 128.20,465.71 165.40,466.19" fill="none" stroke="#111" stroke-width="1.1"/>
<polyline points="55.60,390.96 92.00,421.50 128.20,452.76 165.40,462.04" fill="none" stroke="#2030ff" stroke-width="1.35"/>
<polyline points="55.60,386.32 92.00,414.66 128.20,442.99 165.40,457.89" fill="none" stroke="#ff1010" stroke-width="1.35"/>
<rect x="53.50" y="463.36" width="4.2" height="4.2" fill="#fff" stroke="#111" stroke-width="1.1"/>
<rect x="89.90" y="464.09" width="4.2" height="4.2" fill="#fff" stroke="#111" stroke-width="1.1"/>
<rect x="126.10" y="463.61" width="4.2" height="4.2" fill="#fff" stroke="#111" stroke-width="1.1"/>
<rect x="163.30" y="464.09" width="4.2" height="4.2" fill="#fff" stroke="#111" stroke-width="1.1"/>
<rect x="53.50" y="388.86" width="4.2" height="4.2" fill="#1010ff" stroke="#111" stroke-width="1"/>
<rect x="89.90" y="419.40" width="4.2" height="4.2" fill="#1010ff" stroke="#111" stroke-width="1"/>
<rect x="126.10" y="450.66" width="4.2" height="4.2" fill="#1010ff" stroke="#111" stroke-width="1"/>
<rect x="163.30" y="459.94" width="4.2" height="4.2" fill="#1010ff" stroke="#111" stroke-width="1"/>
<circle cx="55.60" cy="386.32" r="2.3" fill="#ff0000" stroke="#111" stroke-width="1"/>
<circle cx="92.00" cy="414.66" r="2.3" fill="#ff0000" stroke="#111" stroke-width="1"/>
<circle cx="128.20" cy="442.99" r="2.3" fill="#ff0000" stroke="#111" stroke-width="1"/>
<circle cx="165.40" cy="457.89" r="2.3" fill="#ff0000" stroke="#111" stroke-width="1"/>
<text x="53.55" y="381.80" font-size="4.9" text-anchor="middle" font-weight="bold" fill="#333" textLength="10.00" lengthAdjust="spacingAndGlyphs" stroke="#333" stroke-width="0.25">****</text>
<text x="48.60" y="394.00" font-size="4.9" text-anchor="middle" font-weight="bold" fill="#333" textLength="11.50" lengthAdjust="spacingAndGlyphs" stroke="#333" stroke-width="0.25">****</text>
<text x="93.25" y="405.40" font-size="4.9" text-anchor="middle" font-weight="bold" fill="#333" textLength="7.40" lengthAdjust="spacingAndGlyphs" stroke="#333" stroke-width="0.25">***</text>
<text x="86.30" y="424.00" font-size="4.9" text-anchor="middle" font-weight="bold" fill="#333" textLength="7.70" lengthAdjust="spacingAndGlyphs" stroke="#333" stroke-width="0.25">***</text>
<text x="128.90" y="437.10" font-size="4.9" text-anchor="middle" font-weight="bold" fill="#333" textLength="2.90" lengthAdjust="spacingAndGlyphs" stroke="#333" stroke-width="0.25">*</text>
<text x="124.20" y="455.40" font-size="4.9" text-anchor="middle" font-weight="bold" fill="#333" textLength="2.90" lengthAdjust="spacingAndGlyphs" stroke="#333" stroke-width="0.25">*</text>
<rect x="146.60" y="374.6" width="3.8" height="3.8" fill="#1010ff" stroke="#111" stroke-width="1"/>
<circle cx="148.50" cy="386.2" r="2.1" fill="#ff0000" stroke="#111" stroke-width="1"/>
<rect x="146.60" y="395.9" width="3.8" height="3.8" fill="#fff" stroke="#111" stroke-width="1"/>
<text x="152.80" y="378.80" font-size="6.2" fill="#222" textLength="7.20" lengthAdjust="spacingAndGlyphs">Ad</text>
<text x="152.80" y="388.50" font-size="6.2" fill="#222" textLength="22.30" lengthAdjust="spacingAndGlyphs">rAD-NS3</text>
<text x="152.80" y="400.30" font-size="6.2" fill="#222" textLength="10.30" lengthAdjust="spacingAndGlyphs">PBS</text>
<line x1="211.30" y1="471.70" x2="213.60" y2="471.70" stroke="#000" stroke-width="1"/>
<text x="211.60" y="473.60" font-size="5.6" text-anchor="end" font-weight="bold" fill="#000">0.0</text>
<line x1="211.30" y1="459.68" x2="213.60" y2="459.68" stroke="#000" stroke-width="1"/>
<text x="211.60" y="461.57" font-size="5.6" text-anchor="end" font-weight="bold" fill="#000">0.5</text>
<line x1="211.30" y1="447.65" x2="213.60" y2="447.65" stroke="#000" stroke-width="1"/>
<text x="211.60" y="449.55" font-size="5.6" text-anchor="end" font-weight="bold" fill="#000">1.0</text>
<line x1="211.30" y1="435.62" x2="213.60" y2="435.62" stroke="#000" stroke-width="1"/>
<text x="211.60" y="437.52" font-size="5.6" text-anchor="end" font-weight="bold" fill="#000">1.5</text>
<line x1="211.30" y1="423.60" x2="213.60" y2="423.60" stroke="#000" stroke-width="1"/>
<text x="211.60" y="425.50" font-size="5.6" text-anchor="end" font-weight="bold" fill="#000">2.0</text>
<line x1="211.30" y1="411.57" x2="213.60" y2="411.57" stroke="#000" stroke-width="1"/>
<text x="211.60" y="413.47" font-size="5.6" text-anchor="end" font-weight="bold" fill="#000">2.5</text>
<line x1="211.30" y1="399.55" x2="213.60" y2="399.55" stroke="#000" stroke-width="1"/>
<text x="211.60" y="401.45" font-size="5.6" text-anchor="end" font-weight="bold" fill="#000">3.0</text>
<line x1="211.30" y1="387.52" x2="213.60" y2="387.52" stroke="#000" stroke-width="1"/>
<text x="211.60" y="389.42" font-size="5.6" text-anchor="end" font-weight="bold" fill="#000">3.5</text>
<line x1="211.30" y1="375.50" x2="213.60" y2="375.50" stroke="#000" stroke-width="1"/>
<text x="211.60" y="377.40" font-size="5.6" text-anchor="end" font-weight="bold" fill="#000">4.0</text>
<line x1="213.60" y1="375.00" x2="213.60" y2="472.30" stroke="#000" stroke-width="1.3"/>
<line x1="213.00" y1="471.70" x2="358.80" y2="471.70" stroke="#000" stroke-width="1.3"/>
<line x1="232.00" y1="471.70" x2="232.00" y2="473.50" stroke="#000" stroke-width="1"/>
<text x="232.00" y="478.90" font-size="5.6" text-anchor="middle" font-weight="bold" fill="#000">100</text>
<line x1="267.80" y1="471.70" x2="267.80" y2="473.50" stroke="#000" stroke-width="1"/>
<text x="267.80" y="478.90" font-size="5.6" text-anchor="middle" font-weight="bold" fill="#000">300</text>
<line x1="304.60" y1="471.70" x2="304.60" y2="473.50" stroke="#000" stroke-width="1"/>
<text x="304.60" y="478.90" font-size="5.6" text-anchor="middle" font-weight="bold" fill="#000">900</text>
<line x1="340.90" y1="471.70" x2="340.90" y2="473.50" stroke="#000" stroke-width="1"/>
<text x="340.90" y="478.90" font-size="5.6" text-anchor="middle" font-weight="bold" fill="#000">2700</text>
<text x="202.90" y="367.50" font-size="5.8" font-weight="bold" fill="#000" textLength="53.00" lengthAdjust="spacingAndGlyphs">B. Anti-HCV NS3 IgG</text>
<text transform="translate(195.00,422.5) rotate(-90)" x="0" y="0" font-size="6.2" font-weight="bold" text-anchor="middle" textLength="35.5" lengthAdjust="spacingAndGlyphs">O.D. (450 nm)</text>
<line x1="232.00" y1="403.16" x2="232.00" y2="391.13" stroke="#3050ff" stroke-width="1.1"/>
<line x1="229.80" y1="403.16" x2="234.20" y2="403.16" stroke="#3050ff" stroke-width="1.1"/>
<line x1="229.80" y1="391.13" x2="234.20" y2="391.13" stroke="#3050ff" stroke-width="1.1"/>
<line x1="267.80" y1="439.71" x2="267.80" y2="420.47" stroke="#3050ff" stroke-width="1.1"/>
<line x1="265.60" y1="439.71" x2="270.00" y2="439.71" stroke="#3050ff" stroke-width="1.1"/>
<line x1="265.60" y1="420.47" x2="270.00" y2="420.47" stroke="#3050ff" stroke-width="1.1"/>
<line x1="304.60" y1="457.75" x2="304.60" y2="450.54" stroke="#3050ff" stroke-width="1.1"/>
<line x1="302.40" y1="457.75" x2="306.80" y2="457.75" stroke="#3050ff" stroke-width="1.1"/>
<line x1="302.40" y1="450.54" x2="306.80" y2="450.54" stroke="#3050ff" stroke-width="1.1"/>
<line x1="232.00" y1="397.63" x2="232.00" y2="383.20" stroke="#ff2020" stroke-width="1.1"/>
<line x1="229.80" y1="397.63" x2="234.20" y2="397.63" stroke="#ff2020" stroke-width="1.1"/>
<line x1="229.80" y1="383.20" x2="234.20" y2="383.20" stroke="#ff2020" stroke-width="1.1"/>
<line x1="267.80" y1="427.93" x2="267.80" y2="407.25" stroke="#ff2020" stroke-width="1.1"/>
<line x1="265.60" y1="427.93" x2="270.00" y2="427.93" stroke="#ff2020" stroke-width="1.1"/>
<line x1="265.60" y1="407.25" x2="270.00" y2="407.25" stroke="#ff2020" stroke-width="1.1"/>
<line x1="304.60" y1="450.78" x2="304.60" y2="441.16" stroke="#ff2020" stroke-width="1.1"/>
<line x1="302.40" y1="450.78" x2="306.80" y2="450.78" stroke="#ff2020" stroke-width="1.1"/>
<line x1="302.40" y1="441.16" x2="306.80" y2="441.16" stroke="#ff2020" stroke-width="1.1"/>
<polyline points="232.00,457.27 267.80,457.27 304.60,461.60 340.90,461.36" fill="none" stroke="#111" stroke-width="1.1"/>
<polyline points="232.00,397.14 267.80,430.09 304.60,454.14 340.90,461.36" fill="none" stroke="#2030ff" stroke-width="1.35"/>
<polyline points="232.00,390.41 267.80,417.59 304.60,445.97 340.90,458.95" fill="none" stroke="#ff1010" stroke-width="1.35"/>
<rect x="229.90" y="455.17" width="4.2" height="4.2" fill="#fff" stroke="#111" stroke-width="1.1"/>
<rect x="265.70" y="455.17" width="4.2" height="4.2" fill="#fff" stroke="#111" stroke-width="1.1"/>
<rect x="302.50" y="459.50" width="4.2" height="4.2" fill="#fff" stroke="#111" stroke-width="1.1"/>
<rect x="338.80" y="459.26" width="4.2" height="4.2" fill="#fff" stroke="#111" stroke-width="1.1"/>
<rect x="229.90" y="395.04" width="4.2" height="4.2" fill="#1010ff" stroke="#111" stroke-width="1"/>
<rect x="265.70" y="427.99" width="4.2" height="4.2" fill="#1010ff" stroke="#111" stroke-width="1"/>
<rect x="302.50" y="452.04" width="4.2" height="4.2" fill="#1010ff" stroke="#111" stroke-width="1"/>
<rect x="338.80" y="459.26" width="4.2" height="4.2" fill="#1010ff" stroke="#111" stroke-width="1"/>
<circle cx="232.00" cy="390.41" r="2.3" fill="#ff0000" stroke="#111" stroke-width="1"/>
<circle cx="267.80" cy="417.59" r="2.3" fill="#ff0000" stroke="#111" stroke-width="1"/>
<circle cx="304.60" cy="445.97" r="2.3" fill="#ff0000" stroke="#111" stroke-width="1"/>
<circle cx="340.90" cy="458.95" r="2.3" fill="#ff0000" stroke="#111" stroke-width="1"/>
<text x="232.60" y="383.50" font-size="4.9" text-anchor="middle" font-weight="bold" fill="#333" textLength="7.70" lengthAdjust="spacingAndGlyphs" stroke="#333" stroke-width="0.25">***</text>
<text x="225.20" y="399.80" font-size="4.9" text-anchor="middle" font-weight="bold" fill="#333" textLength="7.10" lengthAdjust="spacingAndGlyphs" stroke="#333" stroke-width="0.25">****</text>
<text x="268.30" y="407.40" font-size="4.9" text-anchor="middle" font-weight="bold" fill="#333" textLength="2.90" lengthAdjust="spacingAndGlyphs" stroke="#333" stroke-width="0.25">*</text>
<text x="262.20" y="432.80" font-size="4.9" text-anchor="middle" font-weight="bold" fill="#333" textLength="2.90" lengthAdjust="spacingAndGlyphs" stroke="#333" stroke-width="0.25">*</text>
<text x="305.00" y="441.70" font-size="4.9" text-anchor="middle" font-weight="bold" fill="#333" textLength="4.30" lengthAdjust="spacingAndGlyphs" stroke="#333" stroke-width="0.25">##</text>
<rect x="322.50" y="374.6" width="3.8" height="3.8" fill="#1010ff" stroke="#111" stroke-width="1"/>
<circle cx="324.40" cy="386.2" r="2.1" fill="#ff0000" stroke="#111" stroke-width="1"/>
<rect x="322.50" y="395.9" width="3.8" height="3.8" fill="#fff" stroke="#111" stroke-width="1"/>
<text x="328.70" y="378.80" font-size="6.2" fill="#222" textLength="7.20" lengthAdjust="spacingAndGlyphs">Ad</text>
<text x="328.70" y="388.50" font-size="6.2" fill="#222" textLength="20.80" lengthAdjust="spacingAndGlyphs">rAd-NS3</text>
<text x="328.70" y="400.30" font-size="6.2" fill="#222" textLength="10.30" lengthAdjust="spacingAndGlyphs">PBS</text>
<line x1="378.50" y1="471.50" x2="380.80" y2="471.50" stroke="#000" stroke-width="1"/>
<text x="378.80" y="473.40" font-size="5.6" text-anchor="end" font-weight="bold" fill="#000">0.0</text>
<line x1="378.50" y1="459.50" x2="380.80" y2="459.50" stroke="#000" stroke-width="1"/>
<text x="378.80" y="461.40" font-size="5.6" text-anchor="end" font-weight="bold" fill="#000">0.5</text>
<line x1="378.50" y1="447.50" x2="380.80" y2="447.50" stroke="#000" stroke-width="1"/>
<text x="378.80" y="449.40" font-size="5.6" text-anchor="end" font-weight="bold" fill="#000">1.0</text>
<line x1="378.50" y1="435.50" x2="380.80" y2="435.50" stroke="#000" stroke-width="1"/>
<text x="378.80" y="437.40" font-size="5.6" text-anchor="end" font-weight="bold" fill="#000">1.5</text>
<line x1="378.50" y1="423.50" x2="380.80" y2="423.50" stroke="#000" stroke-width="1"/>
<text x="378.80" y="425.40" font-size="5.6" text-anchor="end" font-weight="bold" fill="#000">2.0</text>
<line x1="378.50" y1="411.50" x2="380.80" y2="411.50" stroke="#000" stroke-width="1"/>
<text x="378.80" y="413.40" font-size="5.6" text-anchor="end" font-weight="bold" fill="#000">2.5</text>
<line x1="378.50" y1="399.50" x2="380.80" y2="399.50" stroke="#000" stroke-width="1"/>
<text x="378.80" y="401.40" font-size="5.6" text-anchor="end" font-weight="bold" fill="#000">3.0</text>
<line x1="378.50" y1="387.50" x2="380.80" y2="387.50" stroke="#000" stroke-width="1"/>
<text x="378.80" y="389.40" font-size="5.6" text-anchor="end" font-weight="bold" fill="#000">3.5</text>
<line x1="378.50" y1="375.50" x2="380.80" y2="375.50" stroke="#000" stroke-width="1"/>
<text x="378.80" y="377.40" font-size="5.6" text-anchor="end" font-weight="bold" fill="#000">4.0</text>
<line x1="380.80" y1="375.00" x2="380.80" y2="472.10" stroke="#000" stroke-width="1.3"/>
<line x1="380.20" y1="471.50" x2="525.40" y2="471.50" stroke="#000" stroke-width="1.3"/>
<line x1="398.70" y1="471.50" x2="398.70" y2="473.30" stroke="#000" stroke-width="1"/>
<text x="398.70" y="478.70" font-size="5.6" text-anchor="middle" font-weight="bold" fill="#000">100</text>
<line x1="435.40" y1="471.50" x2="435.40" y2="473.30" stroke="#000" stroke-width="1"/>
<text x="435.40" y="478.70" font-size="5.6" text-anchor="middle" font-weight="bold" fill="#000">300</text>
<line x1="471.00" y1="471.50" x2="471.00" y2="473.30" stroke="#000" stroke-width="1"/>
<text x="471.00" y="478.70" font-size="5.6" text-anchor="middle" font-weight="bold" fill="#000">900</text>
<line x1="507.50" y1="471.50" x2="507.50" y2="473.30" stroke="#000" stroke-width="1"/>
<text x="507.50" y="478.70" font-size="5.6" text-anchor="middle" font-weight="bold" fill="#000">2700</text>
<text x="368.10" y="367.50" font-size="5.8" font-weight="bold" fill="#000" textLength="53.20" lengthAdjust="spacingAndGlyphs">C. Anti-HCV NS5 IgG</text>
<text transform="translate(362.00,422.5) rotate(-90)" x="0" y="0" font-size="6.2" font-weight="bold" text-anchor="middle" textLength="35.5" lengthAdjust="spacingAndGlyphs">O.D. (450 nm)</text>
<line x1="398.70" y1="415.10" x2="398.70" y2="402.14" stroke="#3050ff" stroke-width="1.1"/>
<line x1="396.50" y1="415.10" x2="400.90" y2="415.10" stroke="#3050ff" stroke-width="1.1"/>
<line x1="396.50" y1="402.14" x2="400.90" y2="402.14" stroke="#3050ff" stroke-width="1.1"/>
<line x1="435.40" y1="439.82" x2="435.40" y2="426.38" stroke="#3050ff" stroke-width="1.1"/>
<line x1="433.20" y1="439.82" x2="437.60" y2="439.82" stroke="#3050ff" stroke-width="1.1"/>
<line x1="433.20" y1="426.38" x2="437.60" y2="426.38" stroke="#3050ff" stroke-width="1.1"/>
<line x1="471.00" y1="454.46" x2="471.00" y2="444.38" stroke="#3050ff" stroke-width="1.1"/>
<line x1="468.80" y1="454.46" x2="473.20" y2="454.46" stroke="#3050ff" stroke-width="1.1"/>
<line x1="468.80" y1="444.38" x2="473.20" y2="444.38" stroke="#3050ff" stroke-width="1.1"/>
<line x1="398.70" y1="413.90" x2="398.70" y2="401.90" stroke="#ff2020" stroke-width="1.1"/>
<line x1="396.50" y1="413.90" x2="400.90" y2="413.90" stroke="#ff2020" stroke-width="1.1"/>
<line x1="396.50" y1="401.90" x2="400.90" y2="401.90" stroke="#ff2020" stroke-width="1.1"/>
<line x1="435.40" y1="439.10" x2="435.40" y2="427.10" stroke="#ff2020" stroke-width="1.1"/>
<line x1="433.20" y1="439.10" x2="437.60" y2="439.10" stroke="#ff2020" stroke-width="1.1"/>
<line x1="433.20" y1="427.10" x2="437.60" y2="427.10" stroke="#ff2020" stroke-width="1.1"/>
<line x1="471.00" y1="451.82" x2="471.00" y2="446.06" stroke="#ff2020" stroke-width="1.1"/>
<line x1="468.80" y1="451.82" x2="473.20" y2="451.82" stroke="#ff2020" stroke-width="1.1"/>
<line x1="468.80" y1="446.06" x2="473.20" y2="446.06" stroke="#ff2020" stroke-width="1.1"/>
<polyline points="398.70,458.54 435.40,461.90 471.00,463.34 507.50,464.30" fill="none" stroke="#111" stroke-width="1.1"/>
<polyline points="398.70,408.62 435.40,433.10 471.00,449.42 507.50,458.30" fill="none" stroke="#2030ff" stroke-width="1.35"/>
<polyline points="398.70,407.90 435.40,433.10 471.00,448.94 507.50,458.30" fill="none" stroke="#ff1010" stroke-width="1.35"/>
<rect x="396.60" y="456.44" width="4.2" height="4.2" fill="#fff" stroke="#111" stroke-width="1.1"/>
<rect x="433.30" y="459.80" width="4.2" height="4.2" fill="#fff" stroke="#111" stroke-width="1.1"/>
<rect x="468.90" y="461.24" width="4.2" height="4.2" fill="#fff" stroke="#111" stroke-width="1.1"/>
<rect x="505.40" y="462.20" width="4.2" height="4.2" fill="#fff" stroke="#111" stroke-width="1.1"/>
<rect x="396.60" y="406.52" width="4.2" height="4.2" fill="#1010ff" stroke="#111" stroke-width="1"/>
<rect x="433.30" y="431.00" width="4.2" height="4.2" fill="#1010ff" stroke="#111" stroke-width="1"/>
<rect x="468.90" y="447.32" width="4.2" height="4.2" fill="#1010ff" stroke="#111" stroke-width="1"/>
<rect x="505.40" y="456.20" width="4.2" height="4.2" fill="#1010ff" stroke="#111" stroke-width="1"/>
<circle cx="398.70" cy="407.90" r="2.3" fill="#ff0000" stroke="#111" stroke-width="1"/>
<circle cx="435.40" cy="433.10" r="2.3" fill="#ff0000" stroke="#111" stroke-width="1"/>
<circle cx="471.00" cy="448.94" r="2.3" fill="#ff0000" stroke="#111" stroke-width="1"/>
<circle cx="507.50" cy="458.30" r="2.3" fill="#ff0000" stroke="#111" stroke-width="1"/>
<text x="399.90" y="400.90" font-size="4.9" text-anchor="middle" font-weight="bold" fill="#333" textLength="7.70" lengthAdjust="spacingAndGlyphs" stroke="#333" stroke-width="0.25">***</text>
<text x="392.65" y="411.60" font-size="4.9" text-anchor="middle" font-weight="bold" fill="#333" textLength="8.00" lengthAdjust="spacingAndGlyphs" stroke="#333" stroke-width="0.25">***</text>
<text x="435.60" y="427.20" font-size="4.9" text-anchor="middle" font-weight="bold" fill="#333" textLength="4.50" lengthAdjust="spacingAndGlyphs" stroke="#333" stroke-width="0.25">##</text>
<text x="429.20" y="435.70" font-size="4.9" text-anchor="middle" font-weight="bold" fill="#333" textLength="4.90" lengthAdjust="spacingAndGlyphs" stroke="#333" stroke-width="0.25">**</text>
<text x="465.40" y="452.30" font-size="4.9" text-anchor="middle" font-weight="bold" fill="#333" textLength="2.90" lengthAdjust="spacingAndGlyphs" stroke="#333" stroke-width="0.25">*</text>
<text x="471.40" y="446.50" font-size="4.9" text-anchor="middle" font-weight="bold" fill="#333" textLength="2.90" lengthAdjust="spacingAndGlyphs" stroke="#333" stroke-width="0.25">*</text>
<rect x="487.00" y="374.6" width="3.8" height="3.8" fill="#1010ff" stroke="#111" stroke-width="1"/>
<circle cx="488.90" cy="386.2" r="2.1" fill="#ff0000" stroke="#111" stroke-width="1"/>
<rect x="487.00" y="395.9" width="3.8" height="3.8" fill="#fff" stroke="#111" stroke-width="1"/>
<text x="493.20" y="378.80" font-size="6.2" fill="#222" textLength="7.20" lengthAdjust="spacingAndGlyphs">Ad</text>
<text x="493.20" y="388.50" font-size="6.2" fill="#222" textLength="20.80" lengthAdjust="spacingAndGlyphs">rAd-NS3</text>
<text x="493.20" y="400.30" font-size="6.2" fill="#222" textLength="10.30" lengthAdjust="spacingAndGlyphs">PBS</text>
</svg>
</body></html>
